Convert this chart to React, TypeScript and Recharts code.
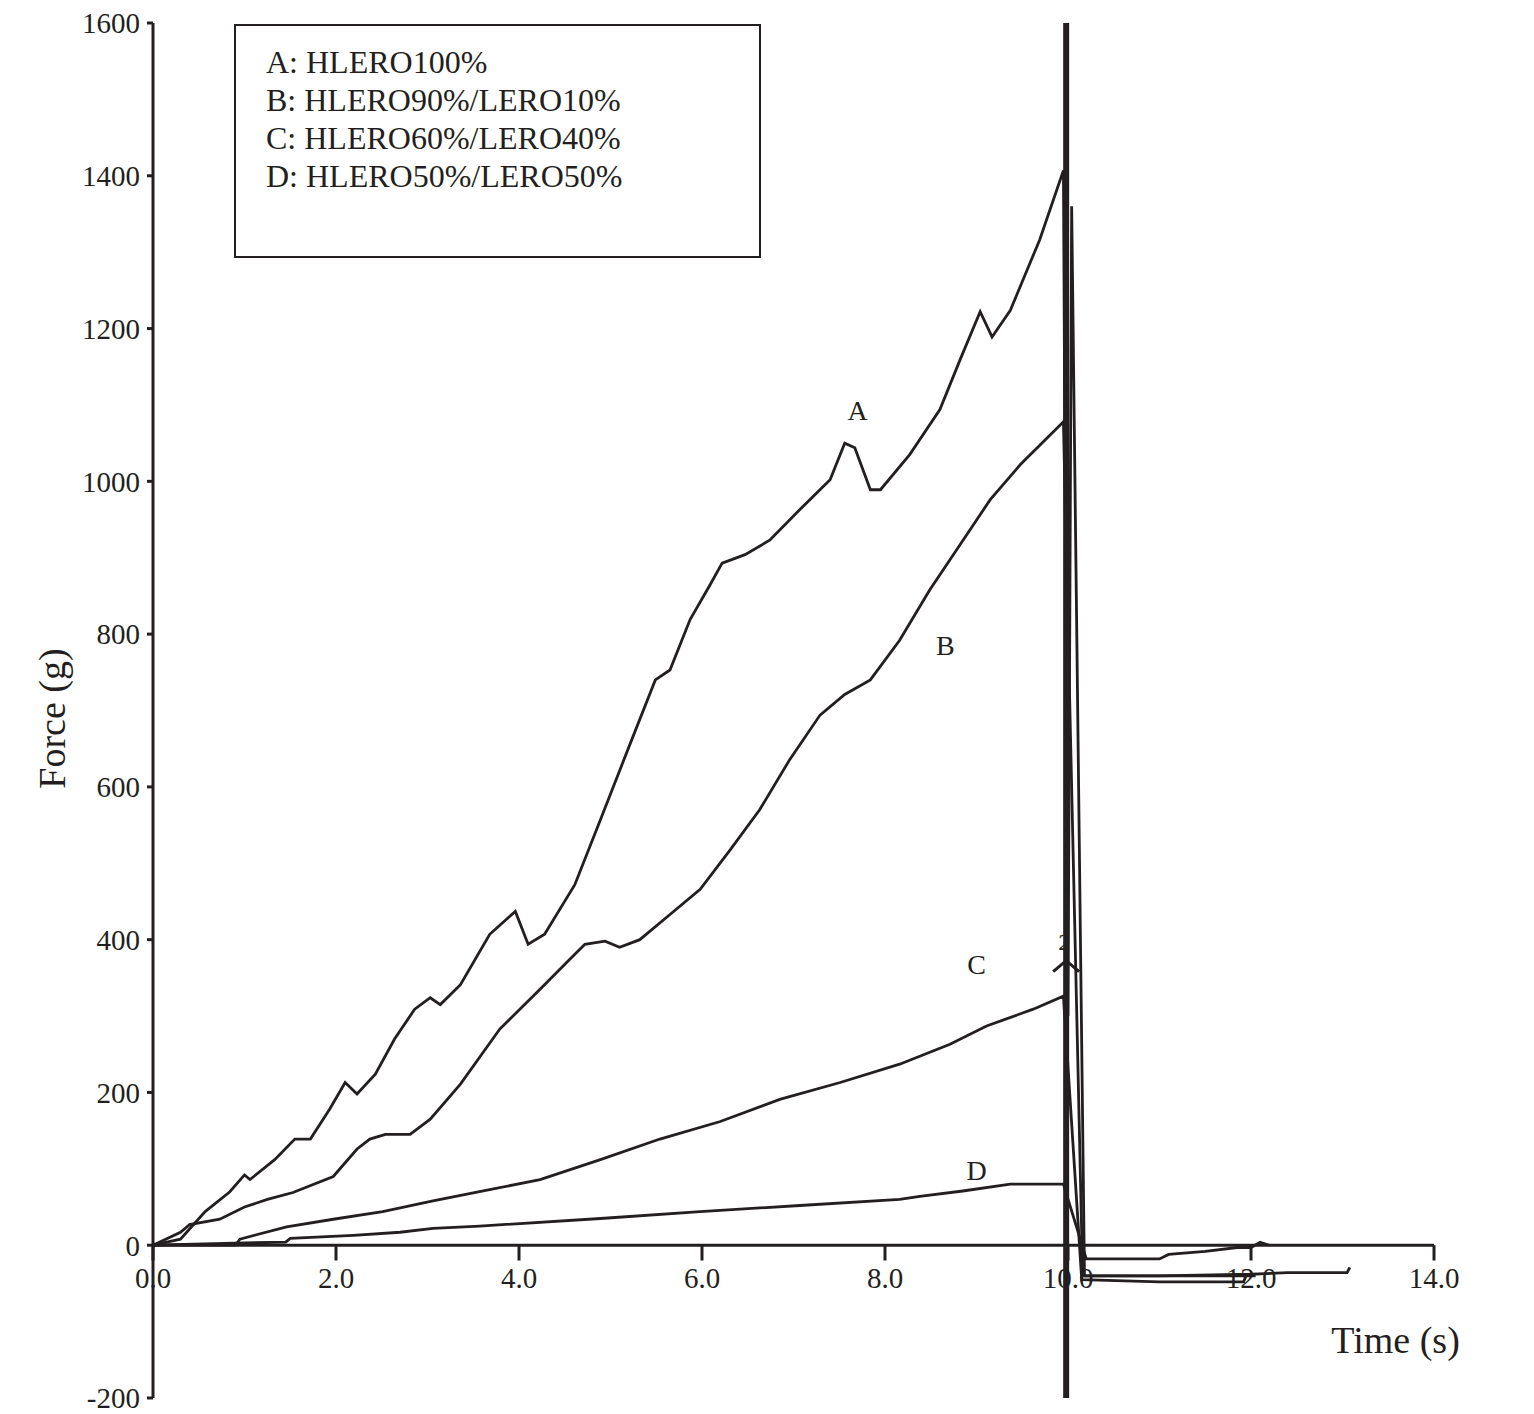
import { LineChart, Line, XAxis, YAxis, ReferenceLine, ReferenceDot } from "recharts";

const INK = "#231f20";
const FONT = '"Liberation Serif", "Times New Roman", Times, serif';

// texture analyser traces: time (s) against force (g)
const timeA = [0, 0.3, 0.57, 0.84, 1.0, 1.06, 1.33, 1.55, 1.72, 1.93, 2.1, 2.23, 2.43, 2.64, 2.86, 3.03, 3.14, 3.36, 3.68, 3.96, 4.1, 4.28, 4.61, 4.89, 5.21, 5.49, 5.65, 5.87, 6.09, 6.22, 6.47, 6.74, 7.07, 7.4, 7.56, 7.67, 7.84, 7.95, 8.27, 8.6, 8.82, 9.04, 9.17, 9.37, 9.69, 9.95, 10.0, 10.04, 10.18, 11.0, 12.0, 12.4, 13.05, 13.08];
const forceA = [0, 8, 44, 70, 92, 86, 112, 139, 139, 178, 213, 198, 224, 270, 309, 324, 315, 341, 407, 437, 394, 407, 472, 557, 655, 740, 753, 819, 865, 893, 904, 923, 963, 1002, 1050, 1044, 989, 989, 1035, 1094, 1159, 1222, 1189, 1224, 1316, 1407, 300, 1360, -40, -40, -38, -36, -36, -29];

const timeB = [0, 0.3, 0.4, 0.73, 1.0, 1.25, 1.53, 1.97, 2.23, 2.37, 2.54, 2.81, 3.03, 3.36, 3.79, 4.23, 4.61, 4.72, 4.94, 5.1, 5.32, 5.65, 5.98, 6.31, 6.63, 6.96, 7.29, 7.56, 7.84, 8.16, 8.49, 8.82, 9.15, 9.48, 9.95, 10.16, 11.0, 12.05];
const forceB = [0, 17, 27, 34, 50, 60, 69, 90, 126, 139, 145, 145, 165, 211, 283, 335, 381, 394, 398, 390, 400, 433, 466, 518, 570, 636, 694, 721, 740, 792, 858, 917, 976, 1022, 1078, -40, -40, -40];

const timeC = [0, 0.9, 0.95, 1.46, 1.97, 2.51, 3.06, 3.61, 4.23, 4.89, 5.54, 6.2, 6.85, 7.51, 8.16, 8.71, 9.11, 9.62, 9.95, 10.15, 11.0, 11.92, 11.95];
const forceC = [0, 0, 8, 24, 34, 44, 58, 71, 86, 112, 139, 162, 191, 213, 237, 263, 287, 309, 326, -45, -48, -48, -38];

const timeD = [0, 1.0, 1.45, 1.5, 2.19, 2.7, 3.06, 3.57, 4.89, 5.98, 7.07, 8.16, 8.38, 8.85, 9.37, 9.95, 10.2, 11.0, 11.1, 11.5, 11.85, 12.0, 12.1, 12.2];
const forceD = [0, 3, 4, 9, 13, 17, 22, 25, 35, 44, 52, 60, 64, 71, 80, 80, -18, -18, -12, -8, -3, -3, 4, 0];

const X_TICKS = [0, 2, 4, 6, 8, 10, 12, 14];
const Y_TICKS = [-200, 0, 200, 400, 600, 800, 1000, 1200, 1400, 1600];

const LEGEND_LINES = [
  "A: HLERO100%",
  "B: HLERO90%/LERO10%",
  "C: HLERO60%/LERO40%",
  "D: HLERO50%/LERO50%",
];

// letters written next to each trace
const CURVE_TAGS = [
  { tag: "A", t: 7.7, f: 1093 },
  { tag: "B", t: 8.66, f: 786 },
  { tag: "C", t: 9.0, f: 368 },
  { tag: "D", t: 9.0, f: 99 },
];

const CURSOR_T = 9.98;
const CURSOR_MARK_F = 366;

const toPoints = (t: number[], f: number[]) => t.map((x, i) => ({ t: x, f: f[i] }));

const SERIES = [
  { key: "A", data: toPoints(timeA, forceA) },
  { key: "B", data: toPoints(timeB, forceB) },
  { key: "C", data: toPoints(timeC, forceC) },
  { key: "D", data: toPoints(timeD, forceD) },
];

function CursorMark(props: any) {
  const { cx, cy } = props;
  return (
    <g>
      <text x={cx - 2} y={cy - 16} textAnchor="middle" fontSize={24} fill={INK}>
        2
      </text>
      <polyline
        points={`${cx - 13},${cy + 6} ${cx},${cy - 5} ${cx + 13},${cy + 6}`}
        fill="none"
        stroke={INK}
        strokeWidth={3}
      />
    </g>
  );
}

function ForceLabel(props: any) {
  const { viewBox } = props;
  const x = viewBox.x + 24;
  const y = viewBox.y + viewBox.height / 2 + 8;
  return (
    <text x={x} y={y} transform={`rotate(-90, ${x}, ${y})`} textAnchor="middle" dominantBaseline="central" fontSize={38} fill={INK}>
      Force (g)
    </text>
  );
}

export default function App() {
  return (
    <div style={{ position: "relative", width: 1518, height: 1406, fontFamily: FONT, background: "#fff" }}>
      <LineChart width={1518} height={1406} margin={{ top: 15, right: 92, bottom: 16, left: 20 }}>
        <XAxis dataKey="t" type="number" domain={[0, 14]} ticks={X_TICKS} hide />
        <YAxis
          type="number"
          domain={[-200, 1600]}
          ticks={Y_TICKS}
          interval={0}
          width={125}
          axisLine={{ stroke: INK, strokeWidth: 3 }}
          tickLine={{ stroke: INK, strokeWidth: 3 }}
          tickSize={6}
          tickMargin={7}
          tick={{ fill: INK, fontSize: 29 }}
          label={{ content: <ForceLabel /> }}
        />

        {/* x axis drawn through zero */}
        <ReferenceLine y={0} stroke={INK} strokeWidth={3} />
        {X_TICKS.map((t) => (
          <ReferenceLine
            key={`xt-${t}`}
            segment={[{ x: t, y: 0 }, { x: t, y: -20 }]}
            stroke={INK}
            strokeWidth={3}
          />
        ))}
        {X_TICKS.map((t) => (
          <ReferenceDot
            key={`xl-${t}`}
            x={t}
            y={-42}
            r={0}
            fill="none"
            stroke="none"
            label={{ value: t.toFixed(1), position: "center", fill: INK, fontSize: 29 }}
          />
        ))}
        <ReferenceDot
          x={13.58}
          y={-123}
          r={0}
          fill="none"
          stroke="none"
          label={{ value: "Time (s)", position: "center", fill: INK, fontSize: 38 }}
        />

        {SERIES.map((s) => (
          <Line
            key={s.key}
            data={s.data}
            dataKey="f"
            type="linear"
            stroke={INK}
            strokeWidth={2.8}
            dot={false}
            activeDot={false}
            isAnimationActive={false}
          />
        ))}

        {/* end-of-test cursor */}
        <ReferenceLine x={CURSOR_T} stroke={INK} strokeWidth={6} />
        <ReferenceDot x={CURSOR_T} y={CURSOR_MARK_F} r={6} shape={<CursorMark />} />

        {CURVE_TAGS.map((c) => (
          <ReferenceDot
            key={c.tag}
            x={c.t}
            y={c.f}
            r={0}
            fill="none"
            stroke="none"
            label={{ value: c.tag, position: "center", fill: INK, fontSize: 28 }}
          />
        ))}
      </LineChart>

      <div
        style={{
          position: "absolute",
          left: 226,
          top: 16,
          width: 527,
          height: 234,
          boxSizing: "border-box",
          border: `2.5px solid ${INK}`,
          padding: "17px 0 0 30px",
          fontSize: 32,
          lineHeight: "38px",
          color: INK,
          background: "#fff",
        }}
      >
        {LEGEND_LINES.map((l) => (
          <div key={l}>{l}</div>
        ))}
      </div>
    </div>
  );
}
